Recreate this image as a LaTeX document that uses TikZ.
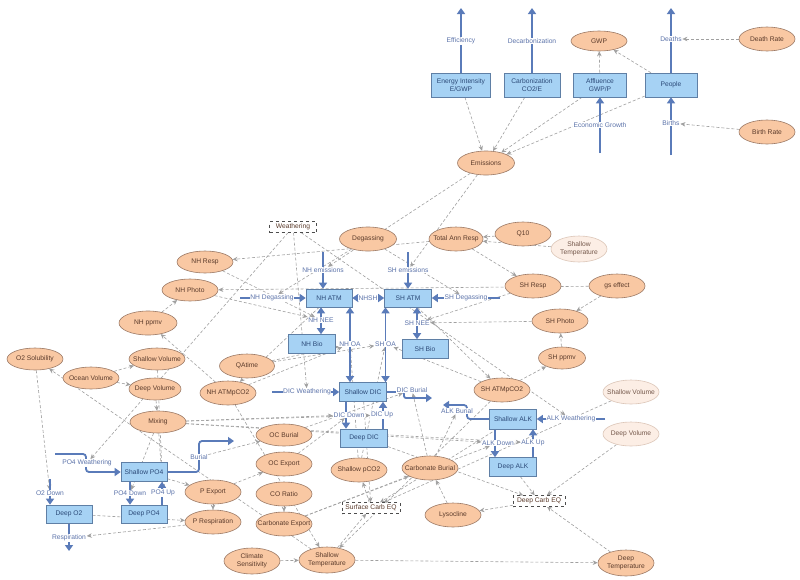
\documentclass[tikz,border=0pt]{standalone}
\usepackage{fontspec}
\setmainfont{Liberation Sans}
\usetikzlibrary{shapes.geometric,arrows.meta}
\pgfdeclarelayer{links}
\pgfdeclarelayer{flows}
\pgfsetlayers{links,flows,main}
\definecolor{peach}{HTML}{F9C8A3}
\definecolor{peachbd}{HTML}{9C7A66}
\definecolor{lpeach}{HTML}{FCEEE5}
\definecolor{lpeachbd}{HTML}{DCC6B8}
\definecolor{sky}{HTML}{A6D2F4}
\definecolor{skybd}{HTML}{5F7FA5}
\definecolor{flowc}{HTML}{5A7BB9}
\definecolor{flowtxt}{HTML}{5D74AA}
\definecolor{linkc}{HTML}{A0A0A0}
\definecolor{auxtxt}{HTML}{5B3B2B}
\definecolor{stocktxt}{HTML}{2C4A78}
\newcommand\ftsm{\fontsize{6.7}{7.4}\selectfont}
\newcommand\AuxT[1]{\makebox[0pt]{#1}}
\newcommand\AuxTT[2]{\makebox[0pt]{\begin{tabular}{@{}c@{}}#1\\#2\end{tabular}}}
\tikzset{
 aux/.style={ellipse, draw=peachbd, fill=peach, line width=0.6pt, minimum width=56pt, minimum height=24pt, inner sep=0pt, text=auxtxt, font=\ftsm},
 lightaux/.style={aux, draw=lpeachbd, fill=lpeach, text=auxtxt!85},
 stock/.style={rectangle, draw=skybd, fill=sky, line width=0.6pt, minimum width=47pt, minimum height=19pt, inner sep=0pt, text=stocktxt, font=\ftsm, align=center},
 shadowbox/.style={rectangle, draw=black!70, dashed, fill=white, minimum height=11pt, inner sep=1pt, text=auxtxt, font=\ftsm},
 flowlbl/.style={fill=white, inner sep=0.6pt, text=flowtxt, font=\ftsm},
 flowline/.style={draw=flowc, line width=1.8pt, -{Triangle[length=6pt,width=8pt]}},
 flowbi/.style={flowline, {Triangle[length=6pt,width=8pt]}-{Triangle[length=6pt,width=8pt]}},
 link/.style={draw=linkc, dash pattern=on 3pt off 2pt, line width=0.6pt, -{Stealth[length=5pt,width=4.5pt]}},
}
\begin{document}
\begin{tikzpicture}[x=1pt,y=-1pt]
\useasboundingbox (0,0) rectangle (800,579);
% ---------- top ----------
\node[stock, minimum width=59pt, minimum height=24pt] (EnergyInt) at (461,85) {Energy Intensity\\E/GWP};
\node[stock, minimum width=56pt, minimum height=24pt] (Carbonization) at (532,85) {Carbonization\\CO2/E};
\node[stock, minimum width=53pt, minimum height=24pt] (Affluence) at (600,85) {Affluence\\GWP/P};
\node[stock, minimum width=52pt, minimum height=24pt] (People) at (671,85) {People};
\node[aux, minimum height=20pt] (GWP) at (599,41) {\AuxT{GWP}};
\node[aux] (DeathRate) at (767,39) {\AuxT{Death Rate}};
\node[aux] (BirthRate) at (767,132) {\AuxT{Birth Rate}};
\node[aux, minimum width=57pt] (Emissions) at (486,163) {\AuxT{Emissions}};
\node[flowlbl] (fEff) at (461,41) {Efficiency};
\node[flowlbl] (fDecarb) at (532,41) {Decarbonization};
\node[flowlbl] (fEcon) at (600,125) {Economic Growth};
\node[flowlbl] (fBirths) at (671,123) {Births};
\node[flowlbl] (fDeaths) at (671,39) {Deaths};
\coordinate (eEff) at (461,8);
\coordinate (eDecarb) at (532,8);
\coordinate (sEcon) at (600,153);
\coordinate (sBirths) at (671,155);
\coordinate (eDeaths) at (671,8);
% ---------- atmosphere ----------
\node[shadowbox, minimum width=47pt] (Weathering) at (293,227) {Weathering};
\node[aux, minimum width=57pt] (Degassing) at (368,239) {\AuxT{Degassing}};
\node[aux, minimum width=54pt] (TotalResp) at (456,239) {\AuxT{Total Ann Resp}};
\node[aux] (Q10) at (523,234) {\AuxT{Q10}};
\node[lightaux, minimum height=26pt] (ShTempL) at (579,249) {\AuxTT{Shallow}{Temperature}};
\node[aux, minimum height=22pt] (NHResp) at (205,262) {\AuxT{NH Resp}};
\node[aux, minimum height=22pt] (NHPhoto) at (190,290) {\AuxT{NH Photo}};
\node[aux] (SHResp) at (533,286) {\AuxT{SH Resp}};
\node[aux] (gseffect) at (617,286) {\AuxT{gs effect}};
\node[aux] (SHPhoto) at (560,321) {\AuxT{SH Photo}};
\node[aux, minimum width=58pt] (NHppmv) at (148,323) {\AuxT{NH ppmv}};
\node[aux, minimum width=47pt, minimum height=22pt] (SHppmv) at (562,358) {\AuxT{SH ppmv}};
\node[stock, minimum width=46pt, minimum height=18pt] (NHATM) at (329,298) {NH ATM};
\node[stock, minimum height=18pt] (SHATM) at (408,298) {SH ATM};
\node[stock] (NHBio) at (312,344) {NH Bio};
\node[stock, minimum width=46pt] (SHBio) at (425,349) {SH Bio};
\node[flowlbl] (fNHem) at (323,270) {NH emissions};
\node[flowlbl] (fSHem) at (408,270) {SH emissions};
\node[flowlbl] (fNHdeg) at (272,298) {NH Degassing};
\node[flowlbl] (fNHSH) at (368,298) {NHSH};
\node[flowlbl] (fSHdeg) at (466,298) {SH Degassing};
\node[flowlbl] (fNHNEE) at (321,320) {NH NEE};
\node[flowlbl] (fSHNEE) at (417,323) {SH NEE};
\node[flowlbl] (fNHOA) at (350,344) {NH OA};
\node[flowlbl] (fSHOA) at (385.5,344) {SH OA};
\coordinate (sNHem) at (323,252);
\coordinate (sSHem) at (408,252);
\coordinate (sNHdeg) at (240,298);
\coordinate (sSHdeg) at (500,298);
% ---------- ocean ----------
\node[aux, minimum height=22pt] (O2Sol) at (35,359) {\AuxT{O2 Solubility}};
\node[aux, minimum height=22pt] (ShVolL) at (157,359) {\AuxT{Shallow Volume}};
\node[aux, minimum height=22pt] (OceanVol) at (91,378) {\AuxT{Ocean Volume}};
\node[aux, minimum width=52pt, minimum height=22pt] (DeepVolL) at (155,389) {\AuxT{Deep Volume}};
\node[aux, minimum width=55pt] (QAtime) at (247,366) {\AuxT{QAtime}};
\node[aux] (NHATMpCO2) at (228,393) {\AuxT{NH ATMpCO2}};
\node[aux] (SHATMpCO2) at (502,390) {\AuxT{SH ATMpCO2}};
\node[lightaux] (ShVolR) at (631,392) {\AuxT{Shallow Volume}};
\node[lightaux] (DeepVolR) at (631,434) {\AuxT{Deep Volume}};
\node[aux, minimum height=22pt] (Mixing) at (158,422) {\AuxT{Mixing}};
\node[aux, minimum height=22pt] (OCBurial) at (284,435) {\AuxT{OC Burial}};
\node[aux] (OCExport) at (284,464) {\AuxT{OC Export}};
\node[aux] (COratio) at (284,494) {\AuxT{CO Ratio}};
\node[aux] (CarbExport) at (284,524) {\AuxT{Carbonate Export}};
\node[aux] (ShpCO2) at (359,470) {\AuxT{Shallow pCO2}};
\node[aux] (CarbBurial) at (430,468) {\AuxT{Carbonate Burial}};
\node[aux] (Lysocline) at (453,515) {\AuxT{Lysocline}};
\node[aux] (PExport) at (213,492) {\AuxT{P Export}};
\node[aux] (PResp) at (213,522) {\AuxT{P Respiration}};
\node[aux, minimum height=26pt] (ClimSens) at (252,561) {\AuxTT{Climate}{Sensitivity}};
\node[aux, minimum height=26pt] (ShTempB) at (327,560) {\AuxTT{Shallow}{Temperature}};
\node[aux, minimum height=26pt] (DeepTemp) at (626,563) {\AuxTT{Deep}{Temperature}};
\node[shadowbox, minimum width=58pt] (SurfCarbEQ) at (371,508) {Surface Carb EQ};
\node[shadowbox, minimum width=52pt] (DeepCarbEQ) at (539,501) {Deep Carb EQ};
\node[stock] (ShDIC) at (363,392) {Shallow DIC};
\node[stock, minimum height=18pt] (DeepDIC) at (364,438) {Deep DIC};
\node[stock, minimum height=20pt] (ShALK) at (513,419) {Shallow ALK};
\node[stock] (DeepALK) at (513,467) {Deep ALK};
\node[stock, minimum width=46pt] (ShPO4) at (144,472) {Shallow PO4};
\node[stock, minimum width=46pt, minimum height=18pt] (DeepPO4) at (144,514) {Deep PO4};
\node[stock, minimum width=46pt, minimum height=18pt] (DeepO2) at (69,514) {Deep O2};
\node[flowlbl] (fDICw) at (307,392) {DIC Weathering};
\node[flowlbl] (fDICb) at (412,390) {DIC Burial};
\node[flowlbl] (fDICd) at (349,415) {DIC Down};
\node[flowlbl] (fDICu) at (382,415) {DIC Up};
\node[flowlbl] (fALKb) at (457,411) {ALK Burial};
\node[flowlbl] (fALKw) at (571,419) {ALK Weathering};
\node[flowlbl] (fALKd) at (498,443) {ALK Down};
\node[flowlbl] (fALKu) at (533,443) {ALK Up};
\node[flowlbl] (fPO4w) at (87,463) {PO4 Weathering};
\node[flowlbl] (fBurial) at (199,457) {Burial};
\node[flowlbl] (fPO4d) at (130,493) {PO4 Down};
\node[flowlbl] (fPO4u) at (163,493) {PO4 Up};
\node[flowlbl] (fO2d) at (50,493) {O2 Down};
\node[flowlbl] (fResp) at (69,538) {Respiration};
\coordinate (sDICw) at (272,392);
\coordinate (eDICb) at (432,398);
\coordinate (xDICd) at (346,415);
\coordinate (xDICu) at (383,415);
\coordinate (eALKb) at (443,405);
\coordinate (sALKw) at (605,419);
\coordinate (xALKd) at (495,443);
\coordinate (xALKu) at (533,443);
\coordinate (sPO4w) at (55,454);
\coordinate (eBurial) at (234,441);
\coordinate (xPO4d) at (130,493);
\coordinate (xPO4u) at (162,493);
\coordinate (sO2d) at (50,479);
\coordinate (eResp) at (69,551);
% ---------- flows ----------
\begin{pgfonlayer}{flows}
\draw[flowline] (EnergyInt.north) -- (eEff);
\draw[flowline] (Carbonization.north) -- (eDecarb);
\draw[flowline] (sEcon) -- (Affluence.south);
\draw[flowline] (sBirths) -- (People.south);
\draw[flowline] (People.north) -- (eDeaths);
\draw[flowline] (sNHem) -- (sNHem |- NHATM.north);
\draw[flowline] (sSHem) -- (sSHem |- SHATM.north);
\draw[flowline] (sNHdeg) -- (NHATM.west);
\draw[flowbi] (NHATM.east) -- (SHATM.west);
\draw[flowline] (sSHdeg) -- (SHATM.east);
\draw[flowbi] (NHATM.south -| fNHNEE) -- (NHBio.north -| fNHNEE);
\draw[flowbi] (SHATM.south -| fSHNEE) -- (SHBio.north -| fSHNEE);
\draw[flowbi] (NHATM.south -| fNHOA) -- (ShDIC.north -| fNHOA);
\draw[flowbi] (SHATM.south -| fSHOA) -- (ShDIC.north -| fSHOA);
\draw[flowline] (sDICw) -- (ShDIC.west);
\draw[flowline, rounded corners=2pt] (ShDIC.east) -- (404,392) -- (404,398) -- (eDICb);
\draw[flowline] (ShDIC.south -| xDICd) -- (DeepDIC.north -| xDICd);
\draw[flowline] (DeepDIC.north -| xDICu) -- (ShDIC.south -| xDICu);
\draw[flowline, rounded corners=3pt] (ShALK.west) -- (467,419) -- (467,405) -- (eALKb);
\draw[flowline] (sALKw) -- (ShALK.east);
\draw[flowline] (ShALK.south -| xALKd) -- (DeepALK.north -| xALKd);
\draw[flowline] (DeepALK.north -| xALKu) -- (ShALK.south -| xALKu);
\draw[flowline, rounded corners=3pt] (sPO4w) -- (86,454) -- (86,472) -- (ShPO4.west);
\draw[flowline, rounded corners=3pt] (ShPO4.east) -- (199,472) -- (199,441) -- (eBurial);
\draw[flowline] (ShPO4.south -| xPO4d) -- (DeepPO4.north -| xPO4d);
\draw[flowline] (DeepPO4.north -| xPO4u) -- (ShPO4.south -| xPO4u);
\draw[flowline] (sO2d) -- (DeepO2.north -| sO2d);
\draw[flowline] (DeepO2.south) -- (eResp);
\end{pgfonlayer}
% ---------- links ----------
\begin{pgfonlayer}{links}
\fill[white] (0,0) rectangle (800,579);
\draw[link] (DeathRate) -- (fDeaths);
\draw[link] (BirthRate) -- (fBirths);
\draw[link] (People) -- (GWP);
\draw[link] (Affluence) -- (GWP);
\draw[link] (EnergyInt) -- (Emissions);
\draw[link] (Carbonization) -- (Emissions);
\draw[link] (Affluence) -- (Emissions);
\draw[link] (People) -- (Emissions);
\draw[link] (Emissions) -- (fNHem);
\draw[link] (Emissions) -- (fSHem);
\draw[link] (Q10) -- (TotalResp);
\draw[link] (ShTempL) -- (TotalResp);
\draw[link] (TotalResp) -- (NHResp);
\draw[link] (TotalResp) -- (SHResp);
\draw[link] (Degassing) -- (fNHdeg);
\draw[link] (Degassing) -- (fSHdeg);
\draw[link] (gseffect) -- (NHPhoto);
\draw[link] (gseffect) -- (SHPhoto);
\draw[link] (SHppmv) -- (SHPhoto);
\draw[link] (SHATMpCO2) -- (SHppmv);
\draw[link] (SHATM) -- (SHATMpCO2);
\draw[link] (NHATM) -- (NHATMpCO2);
\draw[link] (NHATMpCO2) -- (NHppmv);
\draw[link] (NHppmv) -- (NHPhoto);
\draw[link] (NHPhoto) -- (fNHNEE);
\draw[link] (NHResp) -- (fNHNEE);
\draw[link] (SHPhoto) -- (fSHNEE);
\draw[link] (SHResp) -- (fSHNEE);
\draw[link] (Weathering) -- (fDICw);
\draw[link] (Weathering) -- (fALKw);
\draw[link] (Weathering) -- (fPO4w);
\draw[link] (NHATMpCO2) -- (fNHOA);
\draw[link] (SHATMpCO2) -- (fSHOA);
\draw[link] (QAtime) -- (fNHOA);
\draw[link] (QAtime) -- (fSHOA);
\draw[link] (ShpCO2) -- (fNHOA);
\draw[link] (ShpCO2) -- (fSHOA);
\draw[link] (OceanVol) -- (ShVolL);
\draw[link] (OceanVol) -- (DeepVolL);
\draw[link] (DeepVolL) -- (Mixing);
\draw[link] (ShTempB) -- (O2Sol);
\draw[link] (O2Sol) -- (fO2d);
\draw[link] (Mixing) -- (fDICd);
\draw[link] (Mixing) -- (fDICu);
\draw[link] (Mixing) -- (fALKd);
\draw[link] (Mixing) -- (fALKu);
\draw[link] (Mixing) -- (fPO4d);
\draw[link] (Mixing) -- (fPO4u);
\draw[link] (ShVolL) -- (fPO4u);
\draw[link] (ShPO4) -- (PExport);
\draw[link] (PExport) -- (PResp);
\draw[link] (PExport) -- (OCExport);
\draw[link] (PResp) -- (fResp);
\draw[link] (DeepO2) -- (PResp);
\draw[link] (COratio) -- (CarbExport);
\draw[link] (OCExport) -- (fDICd);
\draw[link] (CarbExport) -- (fALKd);
\draw[link] (CarbExport) -- (CarbBurial);
\draw[link] (CarbBurial) -- (fALKb);
\draw[link] (CarbBurial) -- (fDICb);
\draw[link] (fBurial) -- (OCBurial);
\draw[link] (OCBurial) -- (fDICb);
\draw[link] (ClimSens) -- (ShTempB);
\draw[link] (ShTempB) -- (DeepTemp);
\draw[link] (ShTempB) -- (SurfCarbEQ);
\draw[link] (SurfCarbEQ) -- (ShpCO2);
\draw[link] (ShDIC) -- (SurfCarbEQ);
\draw[link] (ShALK) -- (SurfCarbEQ);
\draw[link] (ShVolR) -- (SurfCarbEQ);
\draw[link] (Lysocline) -- (CarbBurial);
\draw[link] (DeepCarbEQ) -- (Lysocline);
\draw[link] (DeepVolR) -- (DeepCarbEQ);
\draw[link] (DeepTemp) -- (DeepCarbEQ);
\draw[link] (DeepALK) -- (DeepCarbEQ);
\draw[link] (DeepDIC) -- (DeepCarbEQ);
\draw[link] (NHATMpCO2) -- (ShTempB);
\draw[link] (SHATMpCO2) -- (ShTempB);
\end{pgfonlayer}
\end{tikzpicture}
\end{document}
